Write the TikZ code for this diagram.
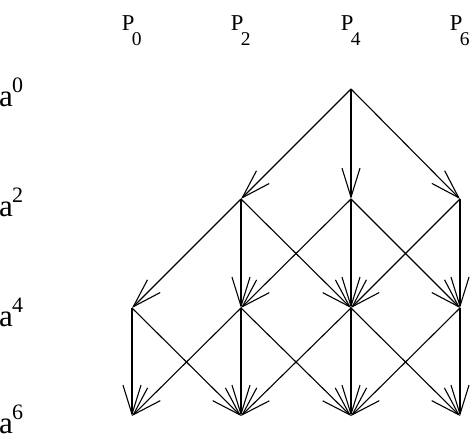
\documentclass[tikz,border=0pt]{standalone}
\usepackage{fontspec}
\setmainfont{Liberation Serif}
\usetikzlibrary{arrows.meta}
\newcommand{\plab}[1]{\fontsize{22.7}{24}\selectfont P\kern-2.6pt\raisebox{-15pt}{\fontsize{19.5}{20}\selectfont #1}}
\newcommand{\alab}[1]{\fontsize{31}{32}\selectfont a\kern-0.8pt\raisebox{14pt}{\fontsize{22}{22}\selectfont #1}}
\begin{document}
\begin{tikzpicture}[x=1pt,y=-1pt,
  arr/.style={-{Straight Barb[length=29pt,width=18pt]}, line width=1.1pt},
  lab/.style={inner sep=0pt, anchor=base west}]
\useasboundingbox (0,0) rectangle (474,434);
% grid points
\coordinate (n02) at (351,89);
\coordinate (n11) at (241,199);
\coordinate (n12) at (351,199);
\coordinate (n13) at (460,199);
\coordinate (n20) at (132,308);
\coordinate (n21) at (241,308);
\coordinate (n22) at (351,308);
\coordinate (n23) at (460,308);
\coordinate (n30) at (132,416);
\coordinate (n31) at (241,416);
\coordinate (n32) at (351,416);
\coordinate (n33) at (460,416);
% column labels
\node[lab] (p0) at (121.6,30) {\plab{0}};
\node[lab] (p2) at (230.6,30) {\plab{2}};
\node[lab] (p4) at (340.6,30) {\plab{4}};
\node[lab] (p6) at (449.6,30) {\plab{6}};
% row labels
\node[lab] (a0) at (-1,106) {\alab{0}};
\node[lab] (a2) at (-1,216) {\alab{2}};
\node[lab] (a4) at (-1,326) {\alab{4}};
\node[lab] (a6) at (-1,433) {\alab{6}};
% edges
\draw[arr] (n02) -- (n11);
\draw[arr] (n02) -- (n12);
\draw[arr] (n02) -- (n13);
\draw[arr] (n11) -- (n20);
\draw[arr] (n11) -- (n21);
\draw[arr] (n11) -- (n22);
\draw[arr] (n12) -- (n21);
\draw[arr] (n12) -- (n22);
\draw[arr] (n12) -- (n23);
\draw[arr] (n13) -- (n22);
\draw[arr] (n13) -- (n23);
\draw[arr] (n20) -- (n30);
\draw[arr] (n20) -- (n31);
\draw[arr] (n21) -- (n30);
\draw[arr] (n21) -- (n31);
\draw[arr] (n21) -- (n32);
\draw[arr] (n22) -- (n31);
\draw[arr] (n22) -- (n32);
\draw[arr] (n22) -- (n33);
\draw[arr] (n23) -- (n32);
\draw[arr] (n23) -- (n33);
\end{tikzpicture}
\end{document}
